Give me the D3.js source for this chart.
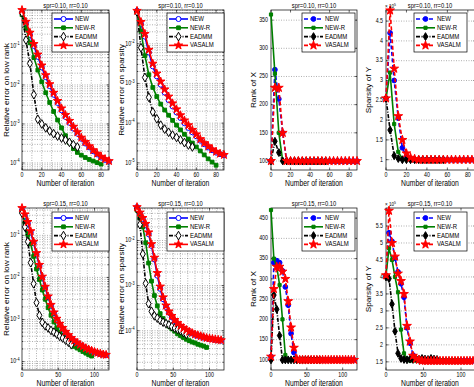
<!DOCTYPE html>
<html>
<head>
<meta charset="utf-8">
<script src="https://cdn.jsdelivr.net/npm/d3@7"></script>
<style>
body { margin: 0; background: #fff; }
text { font-family: "Liberation Sans", Arial, sans-serif; fill: #000; }
</style>
</head>
<body>
<div id="fig"></div>
<script>
// iterations where the markers sit
var topIters = [0,4,8,12,16,20,24,28,32,36,40,44,48,52,56,60,64,68,72,76,80,84,88];
var botIters = [0,4,8,12,16,20,24,28,32,36,40,44,48,52,56,60,64,68,72,76,80,84,88,92,96,100,104,108,112,116];

var names = ['NEW', 'NEW-R', 'EADMM', 'VASALM'];
var titles = ['spr=0.10, rr=0.10', 'spr=0.15, rr=0.10'];

// relative error on low rank (log10), top row
var lowTopNew = [-0.15,-0.42,-0.72,-1.0,-1.28,-1.55,-1.8,-2.03,-2.25,-2.46,-2.65,-2.82,-2.97,-3.12,-3.25,-3.38,-3.5,-3.6,-3.7,-3.78,-3.86,-3.92,-3.96];
var lowTopNewR = [-0.2,-0.55,-0.92,-1.3,-1.62,-1.92,-2.2,-2.45,-2.68,-2.9,-3.1,-3.3,-3.48,-3.63,-3.73,-3.8,-3.86,-3.91,-3.95,-3.99,-4.03];
var lowTopEadmm = [-0.15,-0.85,-1.45,-2.25,-2.88,-3.0,-3.1,-3.18,-3.25,-3.31,-3.36,-3.41,-3.47,-3.53,-3.59];
var lowTopVasalm = [-0.08,-0.38,-0.66,-0.95,-1.22,-1.5,-1.75,-1.98,-2.2,-2.41,-2.6,-2.77,-2.92,-3.07,-3.21,-3.35,-3.46,-3.57,-3.67,-3.76,-3.84,-3.9,-3.95];

// relative error on sparsity (log10), top row
var sprTopNew = [-1.17,-1.5,-1.82,-2.22,-2.57,-2.82,-3.03,-3.23,-3.42,-3.58,-3.73,-3.87,-4.0,-4.12,-4.23,-4.33,-4.44,-4.53,-4.61,-4.68,-4.74,-4.78,-4.81];
var sprTopNewR = [-1.2,-1.68,-2.3,-2.78,-3.1,-3.33,-3.52,-3.67,-3.8,-3.93,-4.05,-4.17,-4.28,-4.4,-4.5,-4.6,-4.7,-4.8,-4.9,-4.98,-5.06];
var sprTopEadmm = [-1.2,-2.1,-2.85,-3.35,-3.72,-3.89,-4.05,-4.15,-4.23,-4.3,-4.36,-4.42,-4.49,-4.55,-4.6];
var sprTopVasalm = [-1.17,-1.45,-1.75,-2.15,-2.5,-2.75,-2.95,-3.15,-3.33,-3.5,-3.65,-3.8,-3.93,-4.05,-4.17,-4.28,-4.4,-4.5,-4.58,-4.66,-4.72,-4.77,-4.8];

// rank of X, top row
var rankTopNew = [100,262,210,150,100,100,100,100,100,100,100,100,100,100,100,100,100,100,100,100,100,100,100];
var rankTopNewR = [360,255,150,100,100,100,100,100,100,100,100,100,100,100,100,100,100,100,100,100,100];
var rankTopEadmm = [100,135,115,100,100,100,100,100,100,100,100,100,100,100,100];
var rankTopVasalm = [100,230,230,150,100,100,100,100,100,100,100,100,100,100,100,100,100,100,100,100,100,100,100];

// sparsity of Y (x 10^5), top row
var spyTopNew = [2.55,4.2,3.0,2.05,1.3,1.08,1.02,1,1,1,1,1,1,1,1,1,1,1,1,1,1,1,1];
var spyTopNewR = [2.55,3.2,1.9,1.2,1.02,1,1,1,1,1,1,1,1,1,1,1,1,1,1,1,1];
var spyTopEadmm = [2.55,1.75,1.1,1.03,1,1,1,1,1,1,1,1,1,1,1];
var spyTopVasalm = [2.55,4.77,3.3,2.1,1.5,1.16,1.05,1.02,1,1,1,1,1,1,1,1,1,1,1,1,1,1,1];

// relative error on low rank (log10), bottom row
var lowBotNew = [-0.4,-0.55,-0.72,-0.93,-1.18,-1.45,-1.73,-2.0,-2.25,-2.47,-2.67,-2.85,-3.0,-3.12,-3.22,-3.31,-3.39,-3.45,-3.51,-3.56,-3.61,-3.65,-3.69,-3.72,-3.75,-3.77,-3.8,-3.82,-3.83,-3.85];
var lowBotNewR = [-0.43,-0.7,-0.98,-1.2,-1.5,-1.8,-2.05,-2.3,-2.52,-2.72,-2.9,-3.06,-3.2,-3.3,-3.38,-3.46,-3.53,-3.59,-3.64,-3.68,-3.72,-3.76,-3.8,-3.84,-3.87];
var lowBotEadmm = [-0.47,-0.8,-1.15,-1.65,-2.15,-2.6,-2.9,-3.07,-3.15,-3.2,-3.26,-3.3,-3.35,-3.4,-3.44,-3.49,-3.54,-3.6];
var lowBotVasalm = [-0.35,-0.5,-0.68,-0.9,-1.15,-1.42,-1.7,-1.98,-2.22,-2.45,-2.65,-2.83,-2.98,-3.1,-3.2,-3.29,-3.37,-3.44,-3.5,-3.55,-3.6,-3.64,-3.68,-3.71,-3.74,-3.77,-3.79,-3.81,-3.83,-3.84];

// relative error on sparsity (log10), bottom row
var sprBotNew = [-1.26,-1.4,-1.52,-1.66,-1.86,-2.12,-2.42,-2.78,-3.07,-3.3,-3.47,-3.6,-3.7,-3.78,-3.85,-3.91,-3.96,-4.0,-4.03,-4.06,-4.09,-4.11,-4.13,-4.15,-4.17,-4.18,-4.19,-4.2,-4.21,-4.22];
var sprBotNewR = [-1.33,-1.5,-1.7,-2.05,-2.5,-2.9,-3.22,-3.45,-3.62,-3.73,-3.83,-3.9,-3.96,-4.01,-4.07,-4.11,-4.15,-4.19,-4.22,-4.25,-4.27,-4.3,-4.32,-4.34,-4.37];
var sprBotEadmm = [-1.3,-1.65,-2.3,-2.95,-3.4,-3.57,-3.67,-3.72,-3.77,-3.81,-3.84,-3.87,-3.91,-3.94,-3.97,-4.0,-4.04,-4.08];
var sprBotVasalm = [-1.26,-1.38,-1.5,-1.63,-1.82,-2.08,-2.38,-2.72,-3.02,-3.26,-3.44,-3.57,-3.67,-3.76,-3.83,-3.89,-3.94,-3.98,-4.02,-4.05,-4.08,-4.1,-4.12,-4.14,-4.16,-4.17,-4.18,-4.19,-4.2,-4.21];

// rank of X, bottom row
var rankBotNew = [108,340,345,340,320,280,235,165,118,100,100,100,100,100,100,100,100,100,100,100,100,100,100,100,100,100,100,100,100,100];
var rankBotNewR = [470,350,330,285,200,112,100,100,100,100,100,100,100,100,100,100,100,100,100,100,100,100,100,100,100];
var rankBotEadmm = [100,260,225,160,100,100,100,100,100,100,100,100,100,100,100,100,100,100];
var rankBotVasalm = [108,275,330,330,318,300,245,180,130,102,100,100,100,100,100,100,100,100,100,100,100,100,100,100,100,100,100,100,100,100];

// sparsity of Y (x 10^5), bottom row
var spyBotNew = [4.05,5.3,5.05,4.55,4.15,3.8,3.4,2.5,2.05,1.7,1.58,1.55,1.53,1.53,1.53,1.53,1.53,1.53,1.53,1.53,1.53,1.53,1.53,1.53,1.53,1.53,1.53,1.53,1.53,1.53];
var spyBotNewR = [4.05,4.85,4.5,4.0,3.55,2.45,1.75,1.56,1.54,1.54,1.54,1.54,1.54,1.54,1.54,1.54,1.54,1.54,1.54,1.54,1.54,1.54,1.54,1.54,1.54];
var spyBotEadmm = [4.0,3.95,3.2,2.4,1.75,1.6,1.57,1.56,1.58,1.57,1.6,1.57,1.6,1.58,1.57,1.6,1.58,1.57];
var spyBotVasalm = [4.05,5.95,5.0,4.6,4.1,3.88,3.5,2.56,2.1,1.68,1.59,1.56,1.53,1.53,1.53,1.53,1.53,1.53,1.53,1.53,1.53,1.53,1.53,1.53,1.53,1.53,1.53,1.53,1.53,1.53];

var topXTicks = [0, 20, 40, 60, 80];
var botXTicks = [0, 50, 100];
var topVGrid = [10, 20, 30, 40, 50, 60, 70, 80];
var botVGrid = [10, 20, 30, 40, 50, 60, 70, 80, 90, 100, 110];

// layout
var W = 474, H = 387;
var cols = [[22, 109], [137, 224], [271, 357], [386, 476]];
var rows = [[10, 170], [208, 370]];
var colors = ['#0000ff', '#008000', '#000000', '#ff0000'];
var shapes = [d3.symbolCircle, d3.symbolSquare, d3.symbolDiamond, d3.symbolStar];
var SY = 1.25; // text in the source figure is a little stretched vertically

var panels = [
  {c: 0, r: 0, log: true, iters: topIters, xmax: 88, xticks: topXTicks, vgrid: topVGrid, ydom: [-4.18, -0.08],
   series: [lowTopNew, lowTopNewR, lowTopEadmm, lowTopVasalm], ylabel: 'Relative error on low rank', leg: [52, 13, 57, 39]},
  {c: 1, r: 0, log: true, iters: topIters, xmax: 88, xticks: topXTicks, vgrid: topVGrid, ydom: [-5.18, -1.15],
   series: [sprTopNew, sprTopNewR, sprTopEadmm, sprTopVasalm], ylabel: 'Relative error on sparsity', leg: [167, 13, 57, 39]},
  {c: 2, r: 0, log: false, iters: topIters, xmax: 88, xticks: topXTicks, ydom: [84, 368], yticks: [100, 150, 200, 250, 300, 350],
   series: [rankTopNew, rankTopNewR, rankTopEadmm, rankTopVasalm], ylabel: 'Rank of X', leg: [302, 13, 53, 39]},
  {c: 3, r: 0, log: false, iters: topIters, xmax: 88, xticks: topXTicks, ydom: [0.74, 4.78], yticks: [1, 1.5, 2, 2.5, 3, 3.5, 4, 4.5],
   series: [spyTopNew, spyTopNewR, spyTopEadmm, spyTopVasalm], ylabel: 'Sparsity of Y', leg: [414, 13, 53, 39], exp5: true},
  {c: 0, r: 1, log: true, iters: botIters, xmax: 120, xticks: botXTicks, vgrid: botVGrid, ydom: [-4.2, -0.35],
   series: [lowBotNew, lowBotNewR, lowBotEadmm, lowBotVasalm], ylabel: 'Relative error on low rank', leg: [52, 212, 57, 39]},
  {c: 1, r: 1, log: true, iters: botIters, xmax: 120, xticks: botXTicks, vgrid: botVGrid, ydom: [-4.87, -1.28],
   series: [sprBotNew, sprBotNewR, sprBotEadmm, sprBotVasalm], ylabel: 'Relative error on sparsity', leg: [167, 212, 57, 39]},
  {c: 2, r: 1, log: false, iters: botIters, xmax: 120, xticks: botXTicks, ydom: [75, 475], yticks: [100, 150, 200, 250, 300, 350, 400, 450],
   series: [rankBotNew, rankBotNewR, rankBotEadmm, rankBotVasalm], ylabel: 'Rank of X', leg: [302, 212, 53, 39]},
  {c: 3, r: 1, log: false, iters: botIters, xmax: 120, xticks: botXTicks, ydom: [1.26, 6.03], yticks: [1.5, 2, 2.5, 3, 3.5, 4, 4.5, 5, 5.5],
   series: [spyBotNew, spyBotNewR, spyBotEadmm, spyBotVasalm], ylabel: 'Sparsity of Y', leg: [414, 212, 53, 39], exp5: true}
];

var svg = d3.select('#fig').append('svg')
  .attr('width', W)
  .attr('height', H)
  .style('display', 'block');

svg.append('rect').attr('width', W).attr('height', H).attr('fill', '#fff');

function label(g, x, y, str, size, anchor, rot) {
  return g.append('text')
    .attr('transform', 'translate(' + x + ',' + y + ') scale(1,' + SY + ')' + (rot ? ' rotate(-90)' : ''))
    .attr('text-anchor', anchor || 'start')
    .style('font-size', size + 'px')
    .text(str);
}

function styleOf(p, i) {
  // log panels: solid lines, open circles/diamonds; rank/sparsity panels: dashed lines, filled markers
  var dash;
  if (i == 2) dash = '4,1.5,1,1.5';
  else if (!p.log && i != 1) dash = '4,2.5';
  else dash = null;
  var filled = !p.log || i == 1 || i == 3;
  var size = p.log ? [20, 14, 22, 22][i] : [18, 10, 18, 24][i];
  return {color: colors[i], dash: dash, fill: filled ? colors[i] : '#fff', size: size};
}

panels.forEach(function(p) {
  var x0 = cols[p.c][0], x1 = cols[p.c][1], y0 = rows[p.r][0], y1 = rows[p.r][1];
  var g = svg.append('g');

  var x = d3.scaleLinear().domain([0, p.xmax]).range([x0, x1]);
  var y = p.log
    ? d3.scaleLog().domain([Math.pow(10, p.ydom[0]), Math.pow(10, p.ydom[1])]).range([y1, y0])
    : d3.scaleLinear().domain(p.ydom).range([y1, y0]);
  var val = p.log ? function(v) { return Math.pow(10, v); } : function(v) { return v; };

  // grid
  var grid = g.append('g')
    .attr('stroke', '#000')
    .attr('stroke-opacity', 0.45)
    .attr('stroke-width', 0.7)
    .attr('stroke-dasharray', '1,1.5');

  var hLines = [], majors = [], minors = [];
  if (p.log) {
    for (var k = Math.floor(p.ydom[0]); k <= Math.ceil(p.ydom[1]); k++) {
      for (var m = 1; m <= 9; m++) {
        var v = m * Math.pow(10, k);
        if (v >= y.domain()[0] && v <= y.domain()[1]) {
          hLines.push(v);
          if (m == 1) majors.push(v); else minors.push(v);
        }
      }
    }
    p.vgrid.forEach(function(t) {
      grid.append('line').attr('x1', x(t)).attr('x2', x(t)).attr('y1', y0).attr('y2', y1);
    });
  } else {
    hLines = p.yticks;
    majors = p.yticks;
  }
  hLines.forEach(function(v) {
    grid.append('line').attr('x1', x0).attr('x2', x1).attr('y1', y(v)).attr('y2', y(v));
  });

  // ticks inside the box on all four sides
  var tk = g.append('g').attr('stroke', '#000').attr('stroke-width', 0.6);
  p.xticks.forEach(function(t) {
    tk.append('line').attr('x1', x(t)).attr('x2', x(t)).attr('y1', y1).attr('y2', y1 - 2.5);
    tk.append('line').attr('x1', x(t)).attr('x2', x(t)).attr('y1', y0).attr('y2', y0 + 2.5);
    label(g, x(t), y1 + 6.8, t, 5.3, 'middle');
  });
  majors.forEach(function(v) {
    tk.append('line').attr('x1', x0).attr('x2', x0 + 2.5).attr('y1', y(v)).attr('y2', y(v));
    tk.append('line').attr('x1', x1).attr('x2', x1 - 2.5).attr('y1', y(v)).attr('y2', y(v));
  });
  minors.forEach(function(v) {
    tk.append('line').attr('x1', x0).attr('x2', x0 + 1.3).attr('y1', y(v)).attr('y2', y(v));
    tk.append('line').attr('x1', x1).attr('x2', x1 - 1.3).attr('y1', y(v)).attr('y2', y(v));
  });

  // y tick labels
  majors.forEach(function(v) {
    if (p.log) {
      var t = label(g, x0 - 2.5, y(v) + 1.8, '10', 5.3, 'end');
      t.append('tspan').attr('dy', -2.2).style('font-size', '3.8px').text(String(Math.round(Math.log10(v))));
    } else {
      label(g, x0 - 3, y(v) + 1.8, String(v), 5.3, 'end');
    }
  });

  // frame
  g.append('rect')
    .attr('x', x0).attr('y', y0)
    .attr('width', x1 - x0).attr('height', y1 - y0)
    .attr('fill', 'none').attr('stroke', '#000').attr('stroke-width', 0.7);

  // series
  p.series.forEach(function(s, i) {
    var st = styleOf(p, i);
    var pts = s.map(function(v, j) { return [p.iters[j], val(v)]; });
    var line = d3.line().x(function(d) { return x(d[0]); }).y(function(d) { return y(d[1]); });
    g.append('path')
      .datum(pts)
      .attr('d', line)
      .attr('fill', 'none')
      .attr('stroke', st.color)
      .attr('stroke-width', 1.6)
      .attr('stroke-dasharray', st.dash);
    g.selectAll('.m' + i)
      .data(pts)
      .enter()
      .append('path')
      .attr('transform', function(d) { return 'translate(' + x(d[0]) + ',' + y(d[1]) + ')'; })
      .attr('d', d3.symbol().type(shapes[i]).size(st.size))
      .attr('fill', st.fill)
      .attr('stroke', st.color)
      .attr('stroke-width', 1);
  });

  // legend
  var lx = p.leg[0], ly = p.leg[1], lw = p.leg[2], lh = p.leg[3];
  var lg = g.append('g');
  lg.append('rect')
    .attr('x', lx).attr('y', ly).attr('width', lw).attr('height', lh)
    .attr('fill', '#fff').attr('stroke', '#000').attr('stroke-width', 0.7);
  names.forEach(function(n, i) {
    var st = styleOf(p, i);
    var ry = ly + 6 + i * 8.8;
    lg.append('line')
      .attr('x1', lx + 2).attr('x2', lx + 21).attr('y1', ry).attr('y2', ry)
      .attr('stroke', st.color).attr('stroke-width', 1.6).attr('stroke-dasharray', st.dash);
    lg.append('path')
      .attr('transform', 'translate(' + (lx + 11.5) + ',' + ry + ')')
      .attr('d', d3.symbol().type(shapes[i]).size(st.size))
      .attr('fill', st.fill).attr('stroke', st.color).attr('stroke-width', 1);
    label(lg, lx + 23, ry + 2, n, 6, 'start');
  });

  // titles and axis labels
  label(g, (x0 + Math.min(x1, W)) / 2, y0 - 2.5, titles[p.r], 5.8, 'middle');
  label(g, (x0 + Math.min(x1, W)) / 2, y1 + 15.8, 'Number of iteration', 6.8, 'middle');
  label(g, x0 - (p.log ? 13.5 : 15.5), (y0 + y1) / 2, p.ylabel, 6.6, 'middle', true);
  if (p.exp5) {
    var e = label(g, x0 - 1, y0 - 2, '\u00d7 10', 4.6, 'start');
    e.append('tspan').attr('dy', -2).style('font-size', '3.5px').text('5');
  }
});
</script>
</body>
</html>
